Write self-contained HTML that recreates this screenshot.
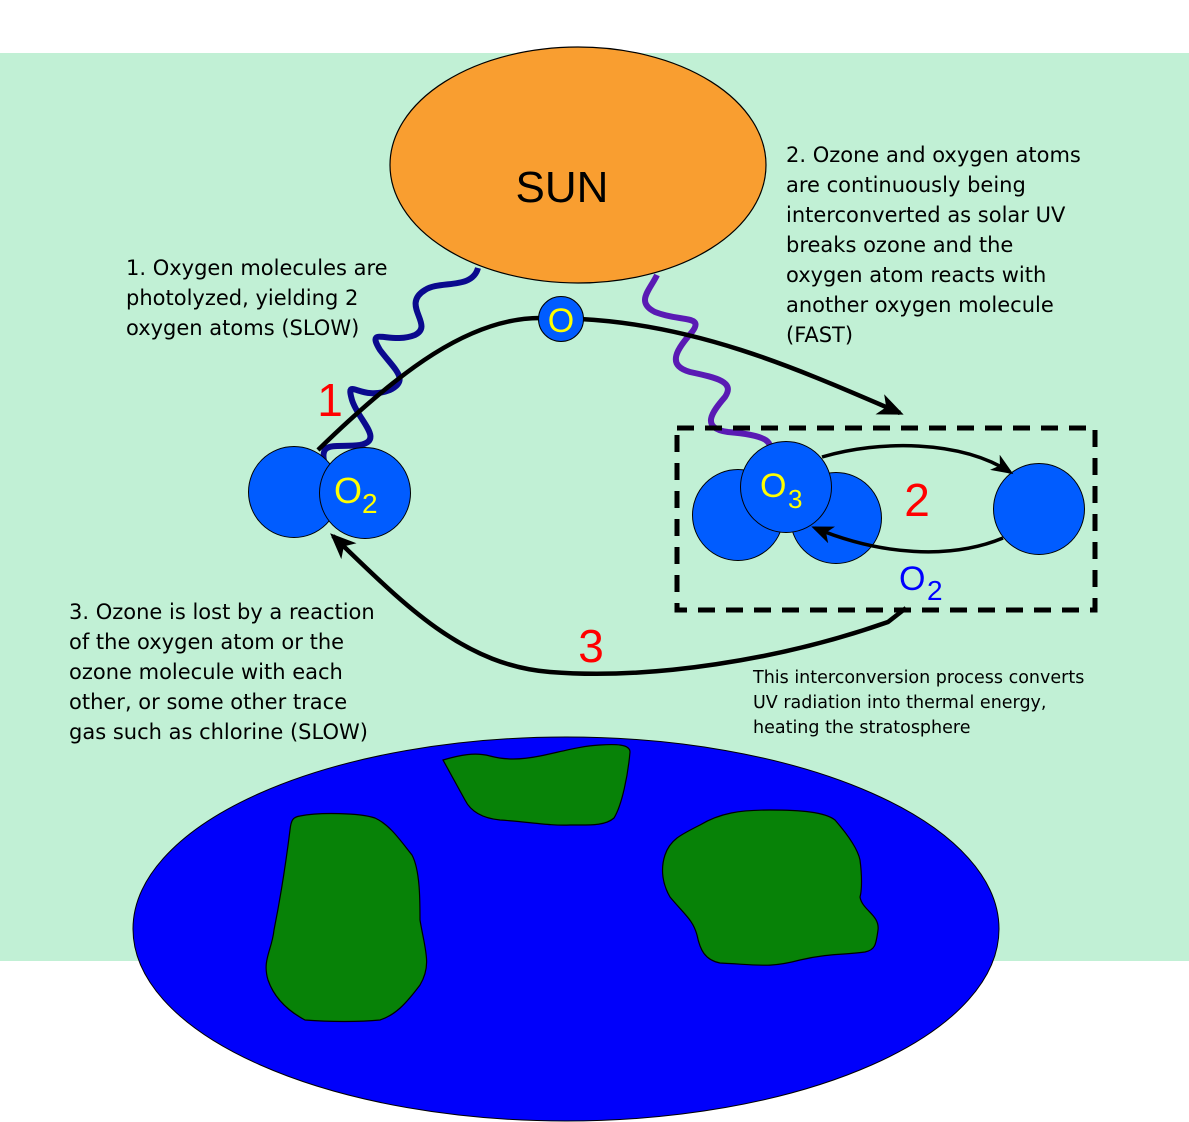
<!DOCTYPE html>
<html><head><meta charset="utf-8"><style>
html,body{margin:0;padding:0;background:#fff}
svg{display:block}
text{font-family:"Liberation Sans",Arial,sans-serif}
.dv text{font-family:"DejaVu Sans","Liberation Sans",sans-serif}
</style></head><body>
<svg width="1189" height="1122" viewBox="0 0 1189 1122" xmlns="http://www.w3.org/2000/svg">
<defs>
<marker id="ahb" markerWidth="26" markerHeight="22" refX="22" refY="11" orient="auto" markerUnits="userSpaceOnUse">
<path d="M0,0 L26,11 L0,22 L7,11 z" fill="#000"/></marker>
<marker id="ahs" markerWidth="22" markerHeight="18" refX="18" refY="9" orient="auto" markerUnits="userSpaceOnUse">
<path d="M0,0 L22,9 L0,18 L6,9 z" fill="#000"/></marker>
</defs>
<rect x="0" y="53" width="1189" height="908" fill="#c1f0d5"/>
<ellipse cx="578" cy="165" rx="188" ry="118" fill="#f99e30" stroke="#000" stroke-width="1.2"/>
<text x="562" y="202" font-size="44" text-anchor="middle">SUN</text>

<path d="M478,268 C472,290 440,280 425,290 C400,305 435,325 415,335 C390,345 365,325 380,350 C395,370 410,380 390,390 C360,402 345,375 352,400 C358,420 385,440 360,445 C335,448 318,440 325,465" fill="none" stroke="#0a0a8e" stroke-width="6"/>
<path d="M657,275 C650,290 635,302 655,312 C680,322 705,315 692,332 C678,348 665,365 690,372 C718,378 735,382 725,397 C712,412 700,428 728,432 C765,435 782,442 760,460" fill="none" stroke="#5a1ab4" stroke-width="6"/>

<path d="M318,450 C400,370 470,318 540,318 L580,319 C700,325 800,370 900,413" fill="none" stroke="#000" stroke-width="4.5" marker-end="url(#ahb)"/>

<circle cx="294" cy="492" r="45.5" fill="#005cff" stroke="#000" stroke-width="1"/>
<circle cx="365" cy="493" r="45.5" fill="#005cff" stroke="#000" stroke-width="1"/>
<text x="334" y="503" font-size="36" fill="#ffff00">O</text><text x="362" y="513" font-size="28" fill="#ffff00">2</text>
<text x="330" y="416" font-size="46" fill="#ff0000" text-anchor="middle">1</text>

<circle cx="561" cy="319" r="22.5" fill="#005cff" stroke="#000" stroke-width="1"/>
<text x="561" y="332" font-size="34" fill="#ffff00" text-anchor="middle">O</text>

<rect x="677" y="428" width="418" height="182" fill="none" stroke="#000" stroke-width="5" stroke-dasharray="17,11"/>

<circle cx="738" cy="515" r="45.5" fill="#005cff" stroke="#000" stroke-width="1"/>
<circle cx="836" cy="518" r="45.5" fill="#005cff" stroke="#000" stroke-width="1"/>
<circle cx="786" cy="487" r="45.5" fill="#005cff" stroke="#000" stroke-width="1"/>
<text x="760" y="497" font-size="34" fill="#ffff00">O</text><text x="788" y="508" font-size="26" fill="#ffff00">3</text>
<circle cx="1039" cy="509" r="45.5" fill="#005cff" stroke="#000" stroke-width="1"/>

<path d="M822,457 C880,440 960,440 1010,472" fill="none" stroke="#000" stroke-width="3.5" marker-end="url(#ahs)"/>
<path d="M1003,538 C950,560 880,555 815,528" fill="none" stroke="#000" stroke-width="3.5" marker-end="url(#ahs)"/>
<text x="917" y="516" font-size="46" fill="#ff0000" text-anchor="middle">2</text>
<text x="899" y="590" font-size="34" fill="#0000ff">O</text><text x="927" y="600" font-size="28" fill="#0000ff">2</text>

<path d="M906,608 L888,622 C780,660 650,680 550,672 C460,665 400,600 333,536" fill="none" stroke="#000" stroke-width="4.5" marker-end="url(#ahb)"/>
<text x="591" y="662" font-size="46" fill="#ff0000" text-anchor="middle">3</text>

<g class="dv" font-size="21" fill="#000">
<text x="126" y="275">1. Oxygen molecules are</text>
<text x="126" y="305">photolyzed, yielding 2</text>
<text x="126" y="335">oxygen atoms (SLOW)</text>
<text x="786" y="162">2. Ozone and oxygen atoms</text>
<text x="786" y="192">are continuously being</text>
<text x="786" y="222">interconverted as solar UV</text>
<text x="786" y="252">breaks ozone and the</text>
<text x="786" y="282">oxygen atom reacts with</text>
<text x="786" y="312">another oxygen molecule</text>
<text x="786" y="342">(FAST)</text>
<text x="69" y="619">3. Ozone is lost by a reaction</text>
<text x="69" y="649">of the oxygen atom or the</text>
<text x="69" y="679">ozone molecule with each</text>
<text x="69" y="709">other, or some other trace</text>
<text x="69" y="739">gas such as chlorine (SLOW)</text>
</g>
<g class="dv" font-size="17.5" fill="#000">
<text x="753" y="683">This interconversion process converts</text>
<text x="753" y="708">UV radiation into thermal energy,</text>
<text x="753" y="733">heating the stratosphere</text>
</g>

<ellipse cx="566" cy="929" rx="433" ry="192" fill="#0000fb" stroke="#000" stroke-width="1"/>
<g fill="#078207" stroke="#000" stroke-width="1.2">
<path d="M443,760 C460,755 475,752 490,756 C505,760 520,760 540,756 C560,752 580,746 600,745 C615,744 630,744 630,752 C628,775 622,805 614,818 C605,826 590,825 570,825 C550,826 530,822 500,820 C480,818 470,810 465,800 Z"/>
<path d="M300,816 C320,812 360,813 375,818 C390,825 400,840 412,855 C420,870 420,900 420,920 C425,950 432,965 420,985 C405,1005 395,1015 380,1020 C360,1022 330,1022 305,1020 C290,1012 275,1000 268,980 C262,960 272,950 274,930 C280,900 285,870 290,830 C291,820 293,817 300,816 Z"/>
<path d="M700,825 C720,813 740,810 770,810 C800,810 825,812 835,820 C848,835 858,850 860,860 C862,875 862,890 860,897 C862,910 880,915 878,930 C876,945 875,950 865,952 C845,955 830,953 800,960 C770,968 760,965 720,963 C705,960 700,950 697,935 C693,920 685,915 670,897 C663,885 660,870 665,855 C670,840 680,835 700,825 Z"/>
</g>
</svg>
</body></html>
